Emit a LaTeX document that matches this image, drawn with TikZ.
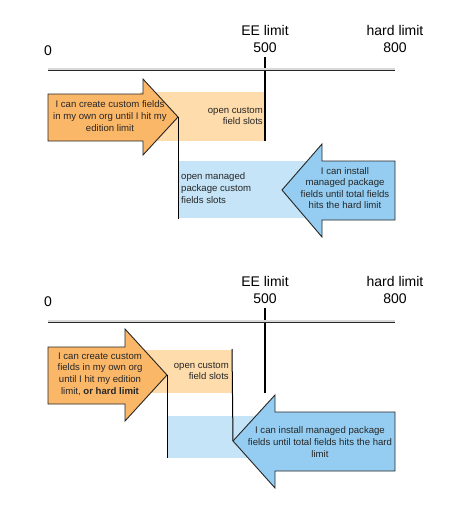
\documentclass[tikz,border=0pt]{standalone}
\usepackage{fontspec}
\setmainfont{Liberation Sans}
\usetikzlibrary{calc}
\definecolor{arroworange}{HTML}{FBB768}
\definecolor{slotorange}{HTML}{FEDCAB}
\definecolor{slotblue}{HTML}{C5E4F7}
\definecolor{arrowblue}{HTML}{94CDF1}
\begin{document}
\begin{tikzpicture}[x=1pt, y=-1pt,
        lbl/.style={font=\fontsize{14}{16}\selectfont, inner sep=0pt},
        txt/.style={font=\fontsize{9.6}{11.6}\selectfont, inner sep=0pt, text=black!85},
        outl/.style={draw=black!85, line width=0.9pt, line join=miter},
        axisbar/.style={draw=black!85, line width=0.9pt, double=black!15, double distance=1.2pt},
        vline/.style={draw=black, line width=1.3pt}]
    \useasboundingbox (0,0) rectangle (474,519);

        % first case: EE limit
        \coordinate (A0) at (48,69);
        \coordinate (A8) at (395,69);
        \coordinate (E1) at (265,57);
        \coordinate (E2) at (265,141);
        \coordinate (T) at (178,117);
        \coordinate (F) at (178,219);
        \coordinate (U) at (282,190);

        \fill[slotorange] (140,92) rectangle (E2);
        \fill[slotblue] (T |- 0,161) rectangle (330,218);

        \draw[outl, fill=arroworange] (48,94) -- (143,94) -- (143,79) -- (T) -- (143,155) -- (143,141) -- (48,141) -- cycle;
        \draw[outl, fill=arrowblue] (U) -- (322,144) -- (322,161) -- (395,161) -- (395,220) -- (322,220) -- (322,237) -- cycle;

        \draw[vline, line width=1pt] (T) -- (F);
        \draw[vline] (E1) -- (E2);
        \draw[axisbar] (A0) -- (A8);

        \node[lbl] (zero) at (48,51) {0};
        \node[lbl] (ee) at (265,30) {EE limit};
        \node[lbl] (ee500) at (265,48) {500};
        \node[lbl] (hard) at (395,30) {hard limit};
        \node[lbl] (hard800) at (395,48) {800};

        \node[txt, align=center] (own) at (110,116) {I can create custom fields\\ in my own org until I hit my\\ edition limit};
        \node[txt, align=right, anchor=east] (slots) at (263,116) {open custom\\ field slots};
        \node[txt, align=left, anchor=west] (mslots) at (181,188) {open managed\\ package custom\\ fields slots};
        \node[txt, align=center] (inst) at (345,188) {I can install\\ managed package\\ fields until total fields\\ hits the hard limit};

        % second case: hard limit
        \coordinate (B0) at (48,321);
        \coordinate (B8) at (395,321);
        \coordinate (G1) at (265,308);
        \coordinate (G2) at (265,393);
        \coordinate (S) at (167,375);
        \coordinate (H) at (167,458);
        \coordinate (R) at (232,349);
        \coordinate (V) at (233,441);

        \fill[slotorange] (120,350) rectangle (232,393);
        \fill[slotblue] (S |- 0,416) rectangle (300,458);

        \draw[outl, fill=arroworange] (48,347) -- (125,347) -- (125,329) -- (S) -- (125,421) -- (125,404) -- (48,404) -- cycle;
        \draw[vline, line width=1pt] (R) -- (V);
        \draw[outl, fill=arrowblue] (V) -- (275,395) -- (275,412) -- (395,412) -- (395,471) -- (275,471) -- (275,488) -- cycle;

        \draw[vline, line width=1pt] (S) -- (H);
        \draw[vline] (G1) -- (G2);
        \draw[axisbar] (B0) -- (B8);

        \node[lbl] (zerob) at (48,302) {0};
        \node[lbl] (eeb) at (265,281) {EE limit};
        \node[lbl] (ee500b) at (265,299) {500};
        \node[lbl] (hardb) at (395,281) {hard limit};
        \node[lbl] (hard800b) at (395,299) {800};

        \node[txt, align=center] (ownb) at (100,374) {I can create custom\\ fields in my own org\\ until I hit my edition\\ limit, \textbf{or hard limit}};
        \node[txt, align=right, anchor=east] (slotsb) at (229,371) {open custom\\ field slots};
        \node[txt, align=center] (instb) at (320,442) {I can install managed package\\ fields until total fields hits the hard\\ limit};
    \end{tikzpicture}
\end{document}
